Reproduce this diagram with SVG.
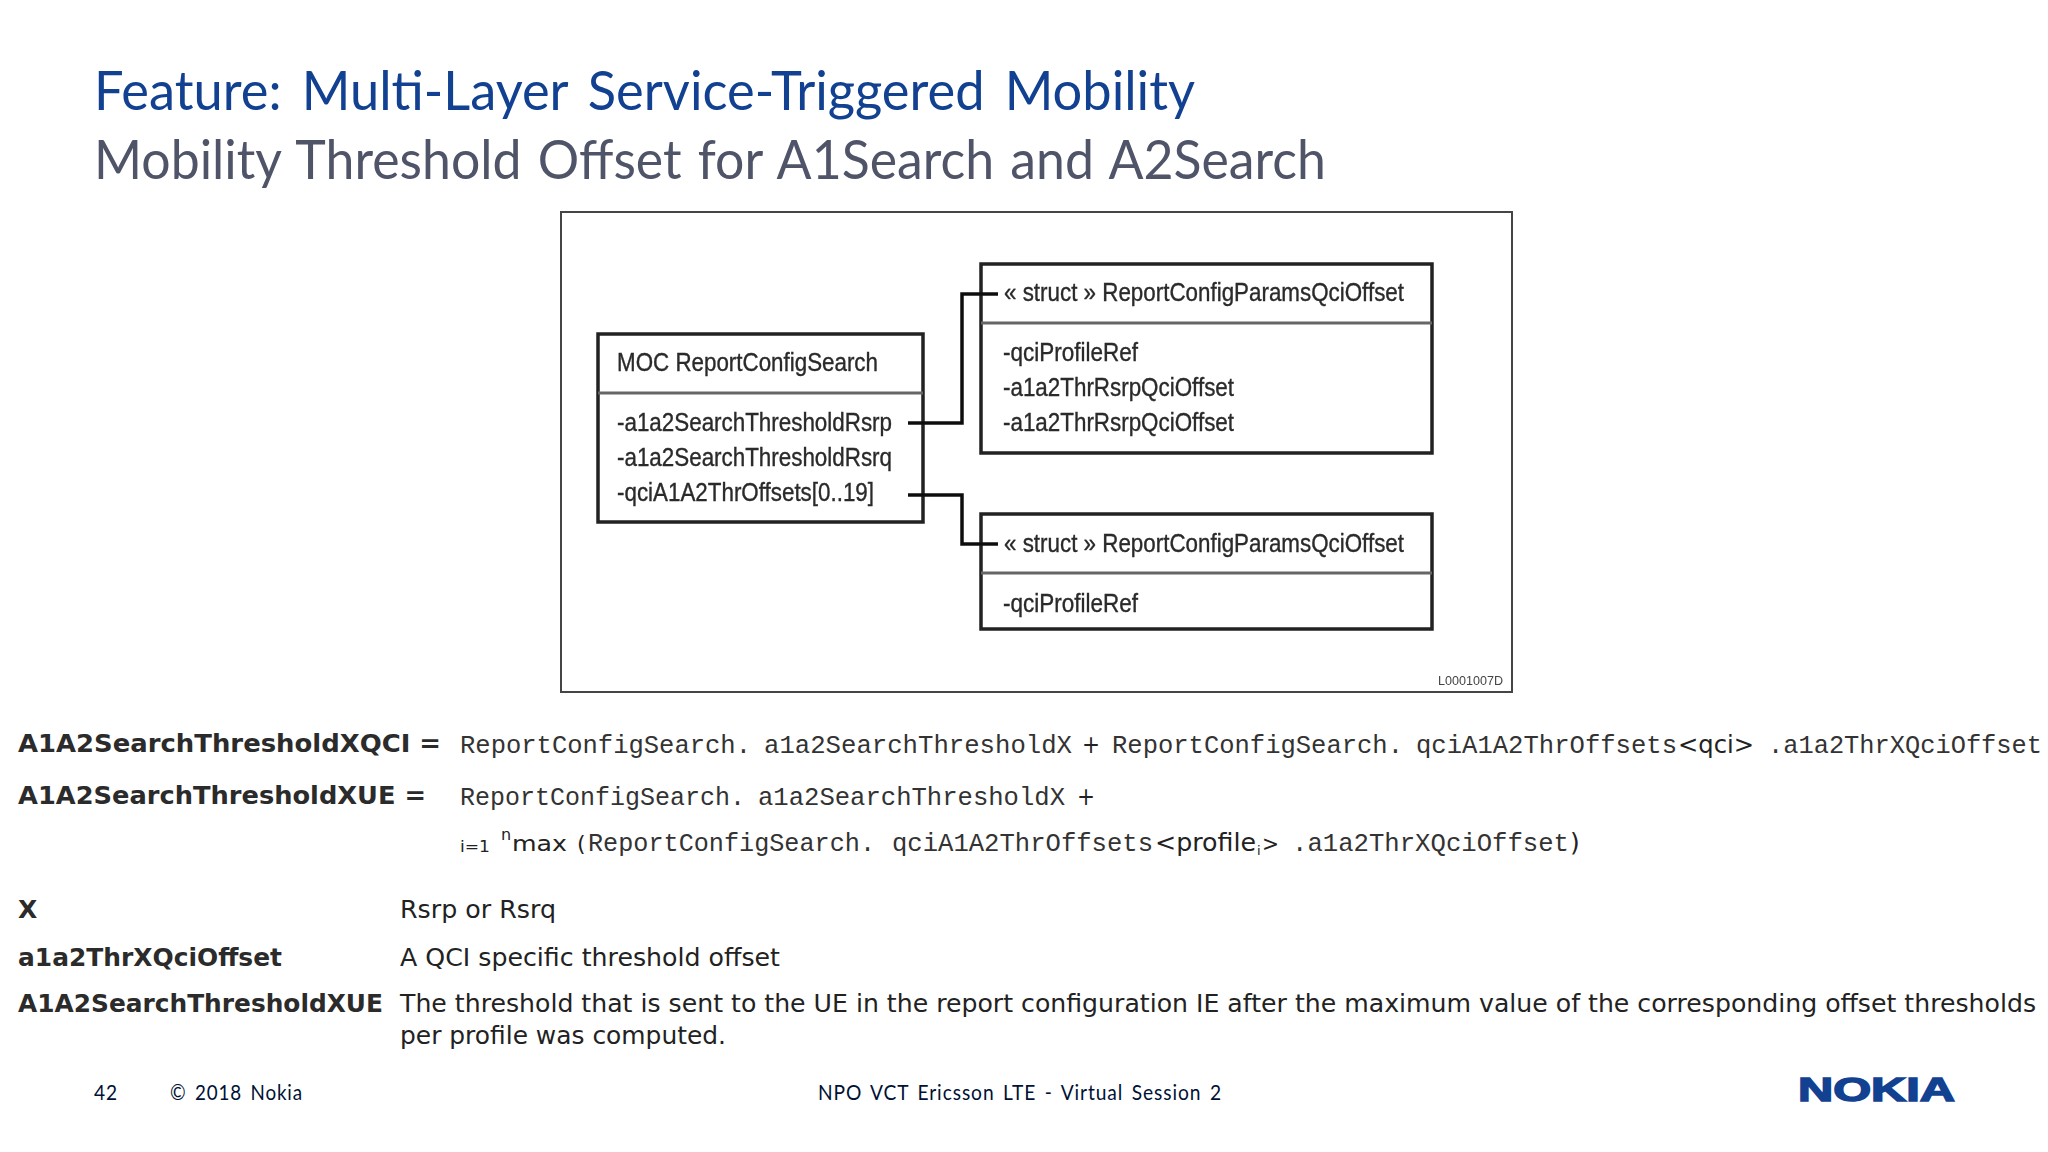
<svg xmlns="http://www.w3.org/2000/svg" width="2048" height="1152" viewBox="0 0 2048 1152">
<style>
text{white-space:pre}
.t1{font:54px Lato,"Open Sans",sans-serif;fill:#124191;word-spacing:7px}
.t2{font:54px Lato,"Open Sans",sans-serif;fill:#4f5468;word-spacing:3px}
.d{font:25px "Liberation Sans",Arial,sans-serif;fill:#2a2a2a;stroke:#2a2a2a;stroke-width:.35}
.b{font:bold 25px "DejaVu Sans",Verdana,sans-serif;fill:#2b2b2b}
.v{font:25px "DejaVu Sans",Verdana,sans-serif;fill:#222}
.m{font:25.4px "Liberation Mono","Courier New",monospace;fill:#333}
.f{font:21px Lato,"Open Sans",sans-serif;fill:#001135;letter-spacing:1px;word-spacing:3px}
.box{fill:#fff;stroke:#222;stroke-width:3.5}
.div{stroke:#666;stroke-width:3}
.c{fill:none;stroke:#111;stroke-width:3.5}
</style>
<defs><filter id="soft" x="-2%" y="-2%" width="104%" height="104%"><feGaussianBlur stdDeviation="0.6"/></filter></defs>
<rect width="2048" height="1152" fill="#fff"/>
<g id="titles">
<text class="t1" x="94" y="110" textLength="1101" lengthAdjust="spacingAndGlyphs">Feature: Multi-Layer Service-Triggered Mobility</text>
<text class="t2" x="94" y="179" textLength="1232" lengthAdjust="spacingAndGlyphs">Mobility Threshold Offset for A1Search and A2Search</text>
</g>
<g filter="url(#soft)">
<rect id="frame" x="561" y="212" width="951" height="480" fill="#fff" stroke="#444" stroke-width="2"/>
<g id="moc">
<rect class="box" x="598" y="334" width="325" height="188"/>
<line class="div" x1="598" y1="393" x2="923" y2="393"/>
<text class="d" x="617" y="371" textLength="261" lengthAdjust="spacingAndGlyphs">MOC ReportConfigSearch</text>
<text class="d" x="617" y="431" textLength="275" lengthAdjust="spacingAndGlyphs">-a1a2SearchThresholdRsrp</text>
<text class="d" x="617" y="466" textLength="275" lengthAdjust="spacingAndGlyphs">-a1a2SearchThresholdRsrq</text>
<text class="d" x="617" y="501" textLength="257" lengthAdjust="spacingAndGlyphs">-qciA1A2ThrOffsets[0..19]</text>
</g>
<g id="struct1">
<rect class="box" x="981" y="264" width="451" height="189"/>
<line class="div" x1="981" y1="323" x2="1432" y2="323"/>
<text class="d" x="1004" y="301" textLength="400" lengthAdjust="spacingAndGlyphs">« struct » ReportConfigParamsQciOffset</text>
<text class="d" x="1003" y="361" textLength="135" lengthAdjust="spacingAndGlyphs">-qciProfileRef</text>
<text class="d" x="1003" y="396" textLength="231" lengthAdjust="spacingAndGlyphs">-a1a2ThrRsrpQciOffset</text>
<text class="d" x="1003" y="431" textLength="231" lengthAdjust="spacingAndGlyphs">-a1a2ThrRsrpQciOffset</text>
</g>
<g id="struct2">
<rect class="box" x="981" y="514" width="451" height="115"/>
<line class="div" x1="981" y1="573" x2="1432" y2="573"/>
<text class="d" x="1004" y="552" textLength="400" lengthAdjust="spacingAndGlyphs">« struct » ReportConfigParamsQciOffset</text>
<text class="d" x="1003" y="612" textLength="135" lengthAdjust="spacingAndGlyphs">-qciProfileRef</text>
</g>
<g id="connectors">
<path class="c" d="M908 423H962V294H998"/>
<path class="c" d="M908 495H962V544H998"/>
</g>
<text id="code" x="1438" y="685" textLength="65" lengthAdjust="spacingAndGlyphs" style="font:12px 'Liberation Sans',sans-serif;fill:#444">L0001007D</text>
</g>
<g id="formulas">
<text class="b" x="18" y="752" textLength="423" lengthAdjust="spacingAndGlyphs">A1A2SearchThresholdXQCI =</text>
<text class="m" x="460" y="753" textLength="291" lengthAdjust="spacingAndGlyphs">ReportConfigSearch.</text>
<text class="m" x="764" y="753" textLength="308" lengthAdjust="spacingAndGlyphs">a1a2SearchThresholdX</text>
<text class="v" x="1082" y="753" textLength="18" lengthAdjust="spacingAndGlyphs">+</text>
<text class="m" x="1112" y="753" textLength="291" lengthAdjust="spacingAndGlyphs">ReportConfigSearch.</text>
<text class="m" x="1416" y="753" textLength="261" lengthAdjust="spacingAndGlyphs">qciA1A2ThrOffsets</text>
<text class="v" x="1678" y="753" textLength="76" lengthAdjust="spacingAndGlyphs" style="font-size:24px">&lt;qci&gt;</text>
<text class="m" x="1768" y="753" textLength="274" lengthAdjust="spacingAndGlyphs">.a1a2ThrXQciOffset</text>
<text class="b" x="18" y="804" textLength="408" lengthAdjust="spacingAndGlyphs">A1A2SearchThresholdXUE =</text>
<text class="m" x="460" y="805" textLength="285" lengthAdjust="spacingAndGlyphs">ReportConfigSearch.</text>
<text class="m" x="758" y="805" textLength="307" lengthAdjust="spacingAndGlyphs">a1a2SearchThresholdX</text>
<text class="v" x="1077" y="805" textLength="18" lengthAdjust="spacingAndGlyphs">+</text>
<text class="v" x="460" y="852" textLength="30" lengthAdjust="spacingAndGlyphs" style="font-size:16px">i=1</text>
<text class="v" x="501" y="840" style="font-size:16px">n</text>
<text class="v" x="512" y="851" textLength="55" lengthAdjust="spacingAndGlyphs" style="font-size:22px">max</text>
<text class="v" x="577" y="851" style="font-size:22px">(</text>
<text class="m" x="588" y="851" textLength="287" lengthAdjust="spacingAndGlyphs">ReportConfigSearch.</text>
<text class="m" x="892" y="851" textLength="261" lengthAdjust="spacingAndGlyphs">qciA1A2ThrOffsets</text>
<text class="v" x="1155" y="851" textLength="101" lengthAdjust="spacingAndGlyphs" style="font-size:24px">&lt;profile</text>
<text class="v" x="1257" y="855" style="font-size:13px">i</text>
<text class="v" x="1262" y="851" textLength="17" lengthAdjust="spacingAndGlyphs" style="font-size:22px">&gt;</text>
<text class="m" x="1292" y="851" textLength="277" lengthAdjust="spacingAndGlyphs">.a1a2ThrXQciOffset</text>
<text class="v" x="1570" y="851">)</text>
</g>
<g id="definitions">
<text class="b" x="18" y="918">X</text>
<text class="v" x="400" y="918" textLength="156" lengthAdjust="spacingAndGlyphs">Rsrp or Rsrq</text>
<text class="b" x="18" y="966" textLength="264" lengthAdjust="spacingAndGlyphs">a1a2ThrXQciOffset</text>
<text class="v" x="400" y="966" textLength="380" lengthAdjust="spacingAndGlyphs">A QCI specific threshold offset</text>
<text class="b" x="18" y="1012" textLength="365" lengthAdjust="spacingAndGlyphs">A1A2SearchThresholdXUE</text>
<text class="v" x="400" y="1012" textLength="1636" lengthAdjust="spacingAndGlyphs">The threshold that is sent to the UE in the report configuration IE after the maximum value of the corresponding offset thresholds</text>
<text class="v" x="400" y="1044" textLength="326" lengthAdjust="spacingAndGlyphs">per profile was computed.</text>
</g>
<g id="footer">
<text class="f" x="94" y="1100" textLength="24" lengthAdjust="spacingAndGlyphs">42</text>
<text class="f" x="170" y="1100" textLength="133" lengthAdjust="spacingAndGlyphs">© 2018 Nokia</text>
<text class="f" x="818" y="1100" textLength="404" lengthAdjust="spacingAndGlyphs">NPO VCT Ericsson LTE - Virtual Session 2</text>
<text id="logo" x="1798" y="1101" textLength="157" lengthAdjust="spacingAndGlyphs" style="font:bold 33.5px 'Liberation Sans',sans-serif;fill:#124191;stroke:#124191;stroke-width:1.5">NOKIA</text>
</g>
</svg>
